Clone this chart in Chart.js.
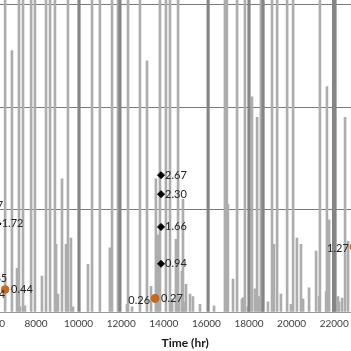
<!DOCTYPE html>
<html>
<head>
<meta charset="utf-8">
<script src="https://cdn.jsdelivr.net/npm/chart.js@4/dist/chart.umd.min.js"></script>
<style>
  html, body { margin: 0; padding: 0; background: #fff; overflow: hidden; }
  #wrap { position: relative; width: 351px; height: 351px; overflow: hidden; }
  #chart { position: absolute; left: -40px; top: -110px; }
</style>
</head>
<body>
<div id="wrap"><canvas id="chart" width="431" height="474"></canvas></div>
<script>
// x ticks (hr)
const tickMin = 6000;
const tickMax = 24000;
const tickStep = 2000;

// light grey spikes: time (hr) and height
const spikeTimes = [
  6550, 6870, 7110, 7200, 7250, 7390, 7480, 7770, 7950, 8280,
  8470, 8660, 8890, 8940, 9030, 9220, 9410, 9500, 9640, 9740,
  10440, 10630, 11000, 11470, 11570, 11850, 12270, 12320, 12510, 12880,
  13210, 13400, 13630, 13730, 13820, 14100, 14290, 14390, 14570, 14670,
  14710, 14850, 14900, 14950, 15040, 15230, 15370, 15700, 16360, 16870,
  16960, 17010, 17250, 17440, 17670, 17720, 17810, 17950, 18140, 18280,
  18380, 18470, 18560, 18610, 18890, 19080, 19170, 19320, 19500, 19790,
  19970, 20070, 20250, 20440, 20540, 20820, 21150, 21290, 21330, 21620,
  21660, 21760, 22180, 22230, 22370, 22510, 22650
];
const spikeHeights = [
  9, 5.1, 0.85, 9, 0.1, 9, 0.12, 9, 9, 0.7,
  9, 9, 9, 1.32, 0.35, 2.6, 1.32, 9, 1.44, 0.1,
  0.93, 9, 9, 1.25, 9, 9, 0.15, 9, 0.1, 9,
  4.9, 0.5, 2.6, 1.5, 9, 9, 9, 0.25, 1.42, 9,
  0.3, 0.8, 2.2, 0.2, 0.54, 0.35, 0.3, 0.15, 0.12, 9,
  9, 2.1, 0.64, 9, 0.25, 0.28, 9, 0.1, 4.2, 0.45,
  3.8, 0.3, 9, 2.4, 0.2, 9, 1.32, 9, 0.35, 9,
  0.15, 9, 1.44, 1.32, 0.25, 0.47, 1.19, 0.3, 9, 0.4,
  4.4, 1.8, 0.3, 0.2, 0.27, 3.8, 1.38
];

// darker grey spikes
const darkTimes = [10020, 11940, 16080, 18000, 18660, 21970, 22040];
const darkHeights = [9, 9, 9, 9, 9, 9, 9];

// black diamonds
const diamondTimes = [5250, 5440, 6200, 13870, 13870, 13870, 13870];
const diamondValues = [2.07, 0.65, 1.72, 2.67, 2.30, 1.66, 0.94];

// orange circles, label on which side
const circleTimes = [5250, 6550, 13590, 13590, 22920];
const circleValues = [0.34, 0.44, 0.26, 0.27, 1.27];
const circleSides = ["right", "right", "left", "right", "left"];

const toXY = (ts, vs) => ts.map((t, i) => ({ x: t, y: vs[i] }));

const pointLabels = {
  id: "pointLabels",
  afterDatasetsDraw(chart) {
    const { ctx, scales: { x, y } } = chart;
    ctx.save();
    ctx.font = "11px Lato";
    ctx.fillStyle = "#262626";
    ctx.textBaseline = "middle";
    diamondTimes.forEach((t, i) => {
      ctx.textAlign = "left";
      ctx.fillText(diamondValues[i].toFixed(2), x.getPixelForValue(t) + 4, y.getPixelForValue(diamondValues[i]));
    });
    circleTimes.forEach((t, i) => {
      const px = x.getPixelForValue(t);
      const py = y.getPixelForValue(circleValues[i]);
      if (circleSides[i] === "left") {
        ctx.textAlign = "right";
        ctx.fillText(circleValues[i].toFixed(2), px - 5, py + 2);
      } else {
        ctx.textAlign = "left";
        ctx.fillText(circleValues[i].toFixed(2), px + 6, py);
      }
    });
    ctx.restore();
  }
};

new Chart(document.getElementById("chart"), {
  type: "bar",
  data: {
    datasets: [
      {
        type: "line",
        data: toXY(diamondTimes, diamondValues),
        showLine: false,
        pointStyle: "rectRot",
        pointRadius: 3.5,
        backgroundColor: "#000",
        borderColor: "#000",
        order: 0
      },
      {
        type: "line",
        data: toXY(circleTimes, circleValues),
        showLine: false,
        pointStyle: "circle",
        pointRadius: 3.8,
        backgroundColor: "#c8691f",
        borderColor: "#c8691f",
        order: 0
      },
      {
        data: toXY(darkTimes, darkHeights),
        backgroundColor: "#858585",
        barThickness: 2.5,
        grouped: false,
        order: 1
      },
      {
        data: toXY(spikeTimes, spikeHeights),
        backgroundColor: "#adadad",
        barThickness: 2,
        grouped: false,
        order: 2
      }
    ]
  },
  options: {
    responsive: false,
    animation: false,
    layout: { padding: { left: 33.4, right: 14.2, top: 12, bottom: 10 } },
    plugins: { legend: { display: false }, tooltip: { enabled: false } },
    scales: {
      x: {
        type: "linear",
        offset: false,
        min: tickMin,
        max: tickMax,
        grid: { display: false, drawTicks: false },
        border: { color: "#9a9a9a" },
        ticks: {
          stepSize: tickStep,
          maxRotation: 0,
          autoSkip: false,
          padding: 6,
          color: "#404040",
          font: { family: "Lato", size: 10 },
          callback: v => String(v)
        },
        title: {
          display: true,
          text: "Time (hr)",
          color: "#1a1a1a",
          font: { family: "Lato", size: 12, weight: "bold" }
        },
        afterFit(scale) {
          scale.height = 42;
          scale.paddingLeft = 0;
          scale.paddingRight = 0;
        }
      },
      y: {
        min: 0,
        max: 8,
        ticks: { display: false, stepSize: 2 },
        grid: { color: "#7a7a7a", lineWidth: 1, drawTicks: false },
        border: { display: false },
        afterFit(scale) {
          scale.width = 0;
        }
      }
    }
  },
  plugins: [pointLabels]
});
</script>
</body>
</html>
